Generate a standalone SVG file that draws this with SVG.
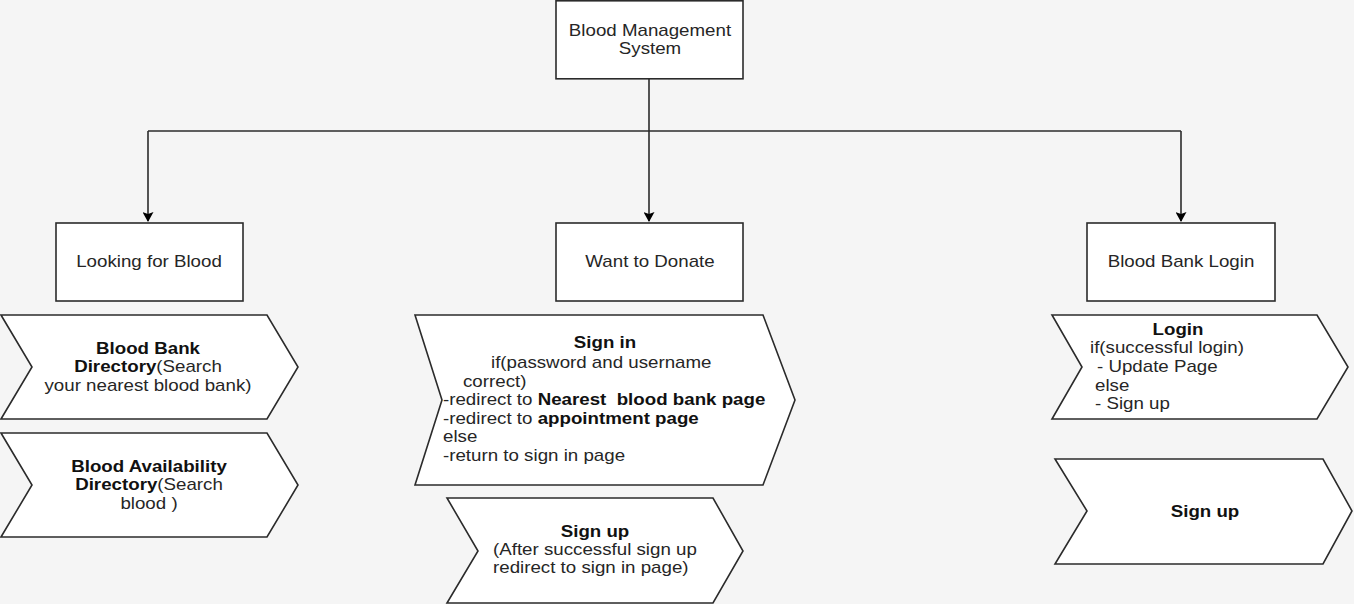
<svg xmlns="http://www.w3.org/2000/svg" width="1354" height="604" viewBox="0 0 1354 604">
<defs>
<style>
.bg{fill:#f5f5f5}
.box{fill:#ffffff;stroke:#2b2b2b;stroke-width:1.6}
.edge{fill:none;stroke:#2b2b2b;stroke-width:1.6}
.t{font-family:"Liberation Sans",Arial,sans-serif;font-size:16px;fill:#262626}
.b{font-weight:bold;fill:#111}
</style>
<marker id="arr" viewBox="0 0 10 11" refX="9" refY="5.5" markerWidth="10" markerHeight="11" markerUnits="userSpaceOnUse" orient="auto">
<path d="M0,0 L10,5.5 L0,11 L2,5.5 z" fill="#000"/>
</marker>
</defs>
<rect class="bg" x="0" y="0" width="1354" height="604"/>

<g id="connectors">
<path class="edge" d="M649,79 V221" marker-end="url(#arr)"/>
<path class="edge" d="M148,131 H1181"/>
<path class="edge" d="M148,131 V221" marker-end="url(#arr)"/>
<path class="edge" d="M1181,131 V221" marker-end="url(#arr)"/>
</g>

<g id="blood-management-system">
<rect class="box" x="556" y="0.8" width="187" height="78"/>
<text class="t" text-anchor="middle" transform="translate(650 36) scale(1.17 1)"><tspan x="0">Blood Management</tspan><tspan x="0" dy="18">System</tspan></text>
</g>

<g id="looking-for-blood">
<rect class="box" x="56" y="223" width="187" height="78"/>
<text class="t" text-anchor="middle" transform="translate(149 267) scale(1.17 1)">Looking for Blood</text>
</g>

<g id="want-to-donate">
<rect class="box" x="556" y="223" width="187" height="78"/>
<text class="t" text-anchor="middle" transform="translate(650 267) scale(1.17 1)">Want to Donate</text>
</g>

<g id="blood-bank-login">
<rect class="box" x="1087" y="223" width="188" height="78"/>
<text class="t" text-anchor="middle" transform="translate(1181 267) scale(1.17 1)">Blood Bank Login</text>
</g>

<g id="blood-bank-directory">
<polygon class="box" points="1,315 267,315 298,367 267,419 1,419 32,367"/>
<text class="t" text-anchor="middle" transform="translate(148 354) scale(1.17 1)"><tspan x="0" class="b">Blood Bank</tspan><tspan x="0" dy="18.5"><tspan class="b">Directory</tspan>(Search</tspan><tspan x="0" dy="18.5">your nearest blood bank)</tspan></text>
</g>

<g id="blood-availability-directory">
<polygon class="box" points="1,433 267,433 298,485 267,537 1,537 32,485"/>
<text class="t" text-anchor="middle" transform="translate(149 472) scale(1.17 1)"><tspan x="0" class="b">Blood Availability</tspan><tspan x="0" dy="18.5"><tspan class="b">Directory</tspan>(Search</tspan><tspan x="0" dy="18.5">blood )</tspan></text>
</g>

<g id="sign-in">
<polygon class="box" points="415,315 763,315 795,400 763,485 415,485 442,400"/>
<text class="t b" text-anchor="middle" transform="translate(605 348) scale(1.17 1)">Sign in</text>
<text class="t" transform="translate(491 368) scale(1.17 1)">if(password and username</text>
<text class="t" transform="translate(463 387) scale(1.17 1)">correct)</text>
<text class="t" xml:space="preserve" transform="translate(443 405) scale(1.17 1)">-redirect to <tspan class="b">Nearest  blood bank page</tspan></text>
<text class="t" transform="translate(443 424) scale(1.17 1)">-redirect to <tspan class="b">appointment page</tspan></text>
<text class="t" transform="translate(443 442) scale(1.17 1)">else</text>
<text class="t" transform="translate(443 461) scale(1.17 1)">-return to sign in page</text>
</g>

<g id="sign-up-donor">
<polygon class="box" points="447,498 713,498 743,551 713,603 447,603 478,551"/>
<text class="t b" text-anchor="middle" transform="translate(595 537) scale(1.17 1)">Sign up</text>
<text class="t" transform="translate(493 555) scale(1.17 1)">(After successful sign up</text>
<text class="t" transform="translate(493 573) scale(1.17 1)">redirect to sign in page)</text>
</g>

<g id="login">
<polygon class="box" points="1052,315 1317,315 1348,367 1317,419 1052,419 1082,367"/>
<text class="t b" text-anchor="middle" transform="translate(1178 335) scale(1.17 1)">Login</text>
<text class="t" transform="translate(1090 353) scale(1.17 1)">if(successful login)</text>
<text class="t" transform="translate(1097 372) scale(1.17 1)"> - Update Page</text>
<text class="t" transform="translate(1095 391) scale(1.17 1)">else</text>
<text class="t" transform="translate(1095 409) scale(1.17 1)">- Sign up</text>
</g>

<g id="sign-up-bank">
<polygon class="box" points="1055,459 1323,459 1352,511 1323,564 1055,564 1087,511"/>
<text class="t b" text-anchor="middle" transform="translate(1205 517) scale(1.17 1)">Sign up</text>
</g>
</svg>
